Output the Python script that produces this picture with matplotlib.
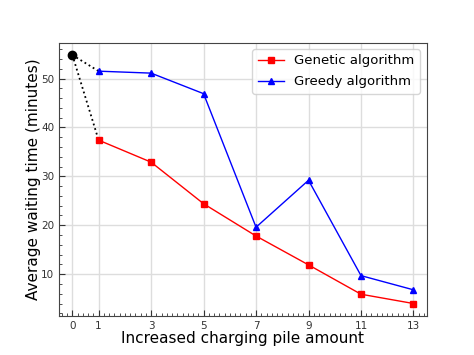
import matplotlib
matplotlib.use("Agg")
import matplotlib.pyplot as plt
from matplotlib.ticker import MultipleLocator

# pile counts added
piles = [1, 3, 5, 7, 9, 11, 13]
genetic = [37.4, 32.9, 24.4, 17.8, 11.9, 5.9, 4.0]
greedy = [51.5, 51.1, 46.9, 19.6, 29.2, 9.7, 6.8]
start_x = 0
start_y = 54.8
xticks = [0, 1, 3, 5, 7, 9, 11, 13]

fig = plt.figure(figsize=(4.74, 3.55), dpi=100)
ax = fig.add_subplot(111)

ax.plot([start_x, piles[0]], [start_y, genetic[0]], ':', color='black', lw=1.3)
ax.plot([start_x, piles[0]], [start_y, greedy[0]], ':', color='black', lw=1.3)
ax.plot(piles, genetic, '-s', color='red', lw=1, markersize=5, label='Genetic algorithm')
ax.plot(piles, greedy, '-^', color='blue', lw=1, markersize=5, label='Greedy algorithm')
ax.plot([start_x], [start_y], 'o', color='black', markersize=6)

ax.set_xticks(xticks)
ax.set_xlim(-0.5, 13.5)
ax.xaxis.set_minor_locator(MultipleLocator(0.2))
ax.yaxis.set_minor_locator(MultipleLocator(2))
ax.tick_params(which='both', direction='in', labelsize=7.5, colors='#333333')
ax.tick_params(which='major', length=4)
ax.tick_params(which='minor', length=2)
for s in ax.spines.values():
    s.set_color('#444444')
ax.grid(True, color='#dddddd', lw=1)

ax.set_xlabel('Increased charging pile amount', fontsize=11, labelpad=0)
ax.set_ylabel('Average waiting time (minutes)', fontsize=11, labelpad=0)
ax.legend(loc='upper right', fontsize=9.5, labelspacing=0.6)

plt.savefig('out.png', dpi=100)
